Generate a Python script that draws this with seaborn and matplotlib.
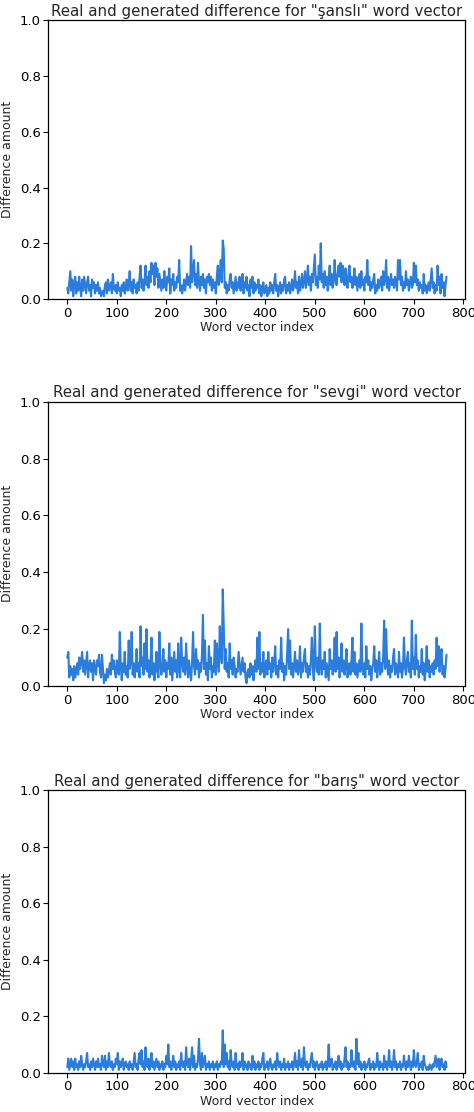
import numpy as np
import pandas as pd
import matplotlib
matplotlib.use("Agg")
import matplotlib.pyplot as plt
import seaborn as sns

words = ["şanslı", "sevgi", "barış"]
x_label = "Word vector index"
y_label = "Difference amount"
x_ticks = [0, 100, 200, 300, 400, 500, 600, 700, 800]
y_ticks = [0.0, 0.2, 0.4, 0.6, 0.8, 1.0]

# sampled word-vector indices (every second index)
vector_index = list(range(0, 768, 2))

diff_sanslı = [
    .04,.02,.06,.10,.03,.07,.01,.05,.08,.02,.06,.03,.08,.04,.01,.07,
    .03,.08,.05,.02,.06,.08,.03,.05,.01,.07,.04,.06,.02,.05,.03,.06,
    .02,.04,.01,.02,.03,.01,.05,.06,.02,.07,.03,.04,.06,.02,.09,.04,
    .03,.05,.02,.06,.03,.04,.01,.05,.03,.06,.02,.04,.07,.03,.05,.10,
    .03,.06,.02,.07,.04,.05,.02,.06,.03,.08,.12,.04,.07,.03,.06,.12,
    .05,.08,.04,.10,.06,.13,.09,.12,.05,.13,.08,.11,.04,.09,.06,.03,
    .07,.04,.10,.05,.03,.08,.06,.11,.02,.07,.05,.09,.03,.06,.04,.08,
    .06,.14,.03,.05,.02,.04,.07,.03,.06,.09,.05,.08,.04,.19,.06,.10,
    .14,.05,.09,.04,.13,.06,.03,.08,.05,.09,.04,.07,.02,.08,.06,.09,
    .05,.08,.03,.07,.04,.06,.02,.08,.12,.05,.09,.14,.06,.21,.18,.04,
    .06,.02,.05,.03,.07,.09,.04,.06,.02,.05,.08,.03,.06,.04,.08,.03,
    .05,.09,.02,.06,.04,.08,.03,.05,.01,.07,.04,.08,.02,.06,.03,.05,
    .04,.07,.02,.05,.01,.04,.06,.02,.03,.05,.01,.04,.02,.06,.03,.05,
    .02,.06,.09,.03,.05,.01,.04,.06,.02,.05,.03,.07,.08,.02,.05,.03,
    .06,.02,.04,.07,.03,.05,.10,.04,.06,.02,.08,.03,.05,.09,.04,.06,
    .10,.04,.07,.12,.05,.08,.03,.09,.06,.11,.16,.05,.08,.04,.12,.07,
    .20,.06,.09,.04,.10,.05,.08,.03,.07,.12,.05,.09,.04,.06,.14,.07,
    .05,.09,.12,.08,.13,.06,.12,.09,.05,.11,.07,.04,.09,.12,.06,.08,
    .04,.07,.11,.05,.08,.03,.06,.09,.04,.10,.05,.07,.03,.08,.06,.14,
    .05,.08,.03,.06,.04,.07,.09,.02,.05,.03,.07,.04,.06,.08,.03,.10,
    .05,.07,.14,.04,.08,.03,.06,.09,.05,.07,.04,.08,.06,.03,.14,.07,
    .14,.05,.08,.03,.06,.04,.10,.05,.07,.03,.06,.08,.04,.05,.13,.06,
    .12,.05,.07,.03,.06,.04,.05,.02,.09,.03,.05,.02,.04,.06,.03,.07,
    .11,.04,.06,.02,.05,.03,.12,.05,.08,.02,.09,.04,.06,.01,.05,.08,
]

diff_sevgi = [
    .10,.12,.03,.07,.04,.06,.02,.07,.03,.05,.08,.04,.10,.06,.09,.12,
    .05,.09,.04,.08,.12,.03,.07,.09,.05,.08,.02,.09,.06,.04,.09,.07,
    .11,.05,.03,.11,.06,.01,.04,.02,.06,.03,.05,.08,.04,.11,.06,.09,
    .05,.03,.09,.06,.04,.19,.07,.02,.08,.05,.12,.04,.07,.03,.16,.06,
    .09,.19,.04,.08,.03,.06,.13,.05,.08,.03,.21,.07,.10,.04,.15,.06,
    .20,.05,.09,.03,.07,.17,.04,.08,.02,.06,.12,.05,.03,.19,.08,.04,
    .07,.13,.05,.09,.03,.08,.06,.15,.04,.10,.02,.07,.12,.05,.09,.03,
    .15,.06,.03,.17,.08,.05,.10,.04,.15,.07,.03,.09,.05,.02,.08,.19,
    .07,.04,.13,.06,.09,.03,.08,.05,.11,.25,.06,.16,.04,.08,.02,.14,
    .06,.10,.03,.07,.05,.16,.04,.15,.09,.05,.21,.12,.08,.34,.21,.06,
    .13,.05,.08,.03,.15,.06,.09,.04,.10,.07,.03,.06,.05,.12,.08,.04,
    .07,.10,.05,.08,.03,.01,.05,.06,.03,.08,.04,.07,.02,.06,.09,.05,
    .17,.06,.19,.04,.08,.05,.12,.03,.07,.09,.04,.12,.06,.08,.03,.10,
    .05,.08,.14,.04,.07,.03,.09,.06,.17,.05,.08,.02,.07,.04,.11,.20,
    .06,.16,.04,.08,.03,.07,.12,.05,.09,.04,.06,.14,.03,.08,.05,.10,
    .13,.05,.08,.03,.07,.04,.09,.17,.06,.02,.21,.08,.05,.10,.04,.22,
    .07,.04,.09,.06,.12,.03,.08,.05,.02,.13,.06,.09,.04,.07,.17,.05,
    .19,.06,.10,.03,.08,.15,.05,.09,.04,.07,.13,.03,.06,.08,.04,.09,
    .17,.05,.12,.04,.08,.03,.06,.09,.05,.22,.07,.04,.08,.03,.14,.06,
    .09,.04,.07,.02,.06,.08,.14,.05,.09,.03,.07,.12,.04,.08,.05,.10,
    .23,.06,.20,.08,.04,.09,.03,.07,.05,.10,.13,.04,.08,.06,.03,.12,
    .05,.08,.03,.06,.17,.07,.04,.09,.12,.05,.08,.03,.23,.06,.10,.04,
    .18,.06,.09,.03,.07,.05,.13,.04,.08,.02,.06,.14,.05,.09,.03,.07,
    .05,.08,.04,.09,.06,.17,.07,.14,.05,.10,.13,.04,.07,.03,.06,.11,
]

diff_barıs = [
    .02,.05,.01,.03,.05,.02,.04,.01,.05,.02,.03,.01,.04,.02,.06,.03,
    .01,.03,.02,.04,.07,.02,.03,.01,.04,.02,.05,.03,.01,.04,.02,.05,
    .02,.03,.01,.06,.03,.02,.06,.01,.04,.02,.07,.03,.02,.04,.01,.03,
    .02,.05,.03,.07,.01,.04,.02,.03,.05,.01,.03,.04,.02,.03,.01,.04,
    .02,.03,.01,.04,.07,.02,.03,.01,.05,.07,.03,.08,.02,.04,.01,.09,
    .03,.02,.05,.01,.03,.07,.02,.04,.01,.03,.05,.02,.04,.01,.03,.02,
    .04,.01,.03,.02,.06,.03,.10,.02,.04,.01,.03,.06,.02,.04,.01,.03,
    .02,.04,.01,.07,.03,.02,.04,.01,.09,.03,.02,.05,.01,.04,.09,.02,
    .06,.01,.03,.02,.05,.12,.03,.01,.07,.02,.04,.06,.01,.03,.02,.04,
    .01,.03,.02,.04,.01,.03,.02,.04,.01,.03,.02,.04,.03,.15,.02,.10,
    .03,.07,.02,.04,.01,.08,.03,.02,.04,.01,.07,.02,.03,.01,.04,.02,
    .03,.07,.01,.04,.02,.03,.01,.04,.02,.03,.01,.06,.02,.04,.01,.03,
    .02,.04,.01,.03,.02,.05,.07,.01,.03,.02,.04,.01,.03,.05,.02,.01,
    .03,.02,.04,.01,.07,.03,.02,.04,.01,.03,.02,.05,.01,.03,.02,.04,
    .01,.03,.02,.04,.01,.03,.07,.02,.04,.01,.08,.03,.02,.05,.01,.09,
    .03,.02,.04,.01,.03,.02,.05,.07,.02,.04,.01,.03,.04,.02,.01,.03,
    .02,.04,.01,.03,.02,.04,.01,.03,.10,.02,.04,.05,.01,.03,.02,.04,
    .01,.03,.06,.02,.04,.01,.03,.02,.05,.09,.02,.04,.01,.03,.02,.08,
    .03,.02,.04,.01,.12,.03,.07,.02,.04,.01,.03,.02,.04,.01,.03,.02,
    .04,.05,.01,.03,.02,.04,.01,.03,.02,.07,.03,.01,.04,.02,.03,.01,
    .06,.02,.04,.01,.03,.08,.02,.04,.01,.03,.08,.02,.04,.01,.03,.02,
    .04,.01,.03,.02,.06,.03,.01,.04,.02,.06,.03,.01,.04,.02,.08,.03,
    .02,.04,.07,.01,.03,.02,.04,.01,.06,.03,.02,.01,.02,.01,.03,.02,
    .01,.03,.02,.04,.06,.02,.03,.05,.01,.04,.05,.02,.03,.01,.04,.02,
]

series = [diff_sanslı, diff_sevgi, diff_barıs]

sns.set_style("ticks")
plt.rcParams["font.family"] = ["DejaVu Sans"]
plt.rcParams["xtick.direction"] = "out"
plt.rcParams["ytick.direction"] = "out"

fig = plt.figure(figsize=(4.74, 11.12), dpi=100)
fig.patch.set_facecolor("white")

# [left, bottom, width, height]
positions = [
    [0.102, 0.7311, 0.880, 0.2505],
    [0.102, 0.3831, 0.880, 0.2557],
    [0.102, 0.0353, 0.880, 0.2543],
]

line_color = "#2a7ddc"

for word, vals, pos in zip(words, series, positions):
    ax = fig.add_axes(pos)
    df = pd.DataFrame({"index": vector_index, "diff": vals})
    sns.lineplot(data=df, x="index", y="diff", ax=ax, color=line_color,
                 linewidth=1.5, estimator=None)
    ax.set_ylim(0, 1.0)
    ax.set_yticks(y_ticks)
    ax.set_yticklabels([f"{t:.1f}" for t in y_ticks], fontsize=9.5)
    ax.set_xticks(x_ticks)
    ax.set_xticklabels([str(t) for t in x_ticks], fontsize=9.5)
    ax.set_xlim(-38.3, 804.3)
    ax.set_title(f'Real and generated difference for "{word}" word vector',
                 fontsize=10.8, pad=3)
    ax.set_xlabel(x_label, fontsize=9, labelpad=1)
    ax.set_ylabel(y_label, fontsize=9, labelpad=4)
    for s in ax.spines.values():
        s.set_visible(True)
        s.set_color("black")
        s.set_linewidth(0.9)
    ax.tick_params(axis="both", length=3.5, width=0.8, pad=2, colors="black")

fig.savefig("out.png", dpi=100, facecolor="white")
